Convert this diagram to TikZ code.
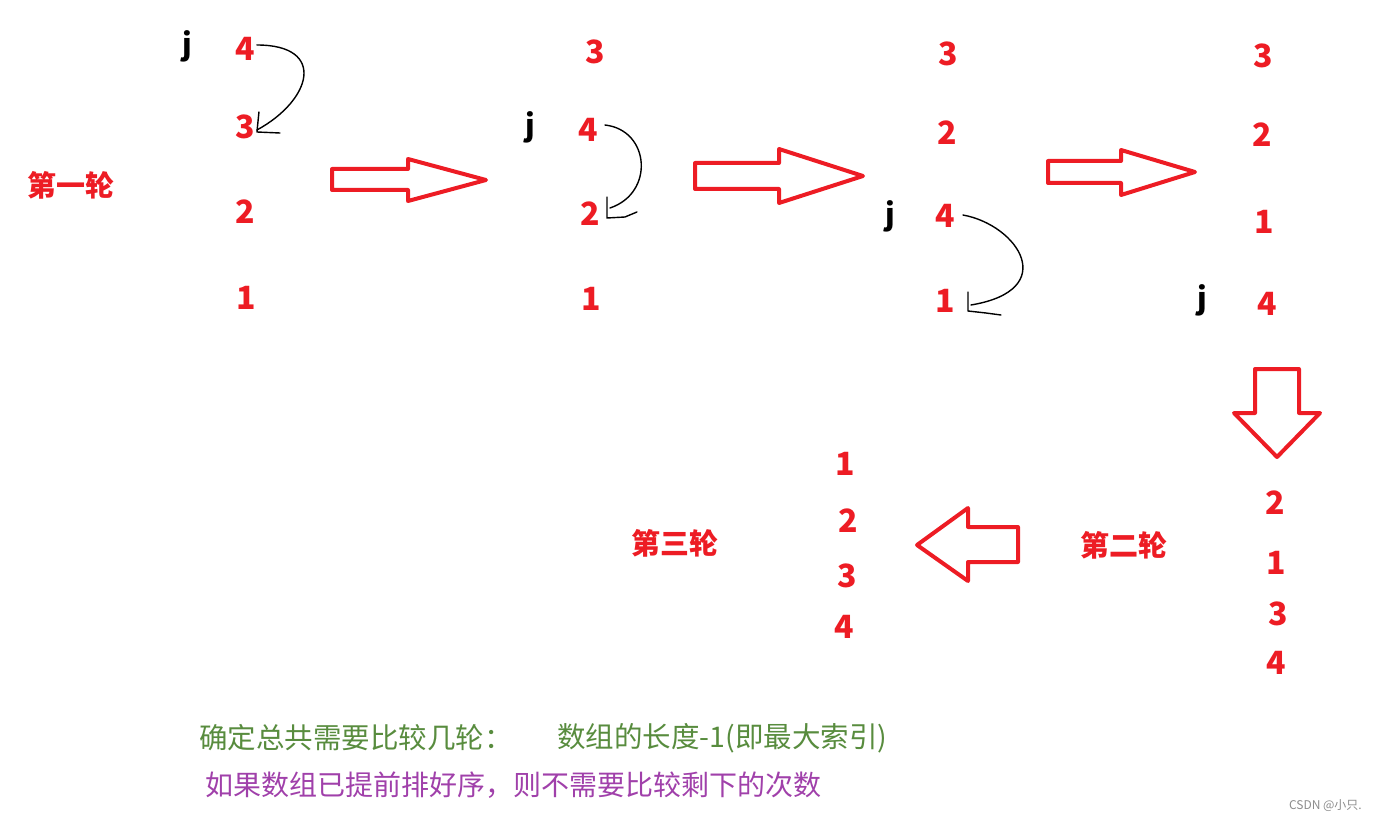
\documentclass[tikz,border=0pt]{standalone}
\usepackage{fontspec}
\newfontfamily\cjk{Noto Sans CJK SC}
\usetikzlibrary{positioning}
\definecolor{mred}{RGB}{237,28,36}
\definecolor{mgreen}{RGB}{88,140,62}
\definecolor{mpurple}{RGB}{160,64,170}

\tikzset{
  num/.style={text=mred, font=\cjk\bfseries\fontsize{32}{32}\selectfont, inner sep=0pt},
  jlab/.style={font=\cjk\bfseries\fontsize{30}{30}\selectfont, inner sep=0pt},
  roundlab/.style={text=mred, font=\cjk\bfseries\fontsize{29}{29}\selectfont, inner sep=0pt},
  fatarrow/.style={draw=mred, line width=4, line join=round},
  swapline/.style={draw=black, line width=1.4, line cap=round, line join=round},
  notegreen/.style={anchor=west, inner sep=0pt, text=mgreen, font=\cjk\fontsize{28.5}{28.5}\selectfont},
}

\begin{document}
\begin{tikzpicture}[x=1pt,y=-1pt]
    \useasboundingbox (0,0) rectangle (1373,821);

    % first pass, step 1
    \node[jlab] (ja) at (187,46) {j};
    \node[num] (a4) at (245,49) {4};
    \node[num] (a3) at (245,127) {3};
    \node[num] (a2) at (245,212) {2};
    \node[num] (a1) at (246,298) {1};
    \node[roundlab] (r1) at (71,185) {第一轮};

    % step 2
    \node[num] (b3) at (595,52) {3};
    \node[jlab] (jb) at (530,127) {j};
    \node[num] (b4) at (588,130) {4};
    \node[num] (b2) at (590,214) {2};
    \node[num] (b1) at (591,299) {1};

    % step 3
    \node[num] (c3) at (948,54) {3};
    \node[num] (c2) at (947,133) {2};
    \node[jlab] (jc) at (890,216) {j};
    \node[num] (c4) at (945,216) {4};
    \node[num] (c1) at (945,301) {1};

    % end of first pass
    \node[num] (d3) at (1263,56) {3};
    \node[num] (d2) at (1262,135) {2};
    \node[num] (d1) at (1264,222) {1};
    \node[jlab] (jd) at (1202,300) {j};
    \node[num] (d4) at (1267,304) {4};

    % second pass
    \node[num] (e2) at (1275,503) {2};
    \node[num] (e1) at (1276,563) {1};
    \node[num] (e3) at (1278,614) {3};
    \node[num] (e4) at (1276,663) {4};
    \node[roundlab] (r2) at (1124,545) {第二轮};

    % third pass
    \node[num] (f1) at (845,464) {1};
    \node[num] (f2) at (848,521) {2};
    \node[num] (f3) at (847,576) {3};
    \node[num] (f4) at (844,627) {4};
    \node[roundlab] (r3) at (675,543) {第三轮};

    % swap marks
    \coordinate (sa) at ([shift={(2,-4)}]a4.east);
    \coordinate (ea) at ([shift={(2,3)}]a3.east);
    \draw[swapline] (sa) .. controls +(70,0) and +(55,-30) .. (ea);
    \draw[swapline] ([shift={(2,-18)}]ea) -- ([shift={(0,2)}]ea) -- +(23,1);

    \coordinate (sb) at ([shift={(7,-5)}]b4.east);
    \coordinate (eb) at ([shift={(10,-6)}]b2.east);
    \draw[swapline] (sb) .. controls +(45,5) and +(45,-15) .. (eb);
    \draw[swapline] ([shift={(-3,-11)}]eb) -- ([shift={(-3,10)}]eb) -- +(18,-1) -- +(30,-6);

    \coordinate (sc) at ([shift={(8,-1)}]c4.east);
    \coordinate (ec) at ([shift={(16,4)}]c1.east);
    \draw[swapline] (sc) .. controls +(55,10) and +(90,-15) .. (ec);
    \draw[swapline] ([shift={(-3,-13)}]ec) -- ([shift={(-3,6)}]ec) -- +(18,2) -- +(33,4);

    % hollow arrows
    \draw[fatarrow] (332,169) -- (408,169) -- (408,159) -- (486,180) -- (408,201) -- (408,190) -- (332,190) -- cycle;
    \draw[fatarrow] (695,163) -- (779,163) -- (779,149) -- (863,176) -- (779,203) -- (779,189) -- (695,189) -- cycle;
    \draw[fatarrow] (1048,161) -- (1121,161) -- (1121,150) -- (1195,172) -- (1121,195) -- (1121,183) -- (1048,183) -- cycle;
    \draw[fatarrow] (1255,369) -- (1299,369) -- (1299,413) -- (1320,413) -- (1277,457) -- (1234,413) -- (1255,413) -- cycle;
    \draw[fatarrow] (917,545) -- (968,508) -- (968,527) -- (1018,527) -- (1018,562) -- (968,562) -- (968,581) -- cycle;

    % notes
    \node[notegreen] (note1) at (199,738) {确定总共需要比较几轮：};
    \node[notegreen] (note1b) at (557,738) {数组的长度-1(即最大索引)};
    \node[anchor=west, inner sep=0pt, text=mpurple, font=\cjk\fontsize{28}{28}\selectfont] (note2) at (205,785) {如果数组已提前排好序，则不需要比较剩下的次数};
    \node[anchor=east, inner sep=0pt, text=black!45, font=\cjk\fontsize{12}{12}\selectfont] (mark) at (1362,806) {CSDN @小只.};
\end{tikzpicture}
\end{document}
